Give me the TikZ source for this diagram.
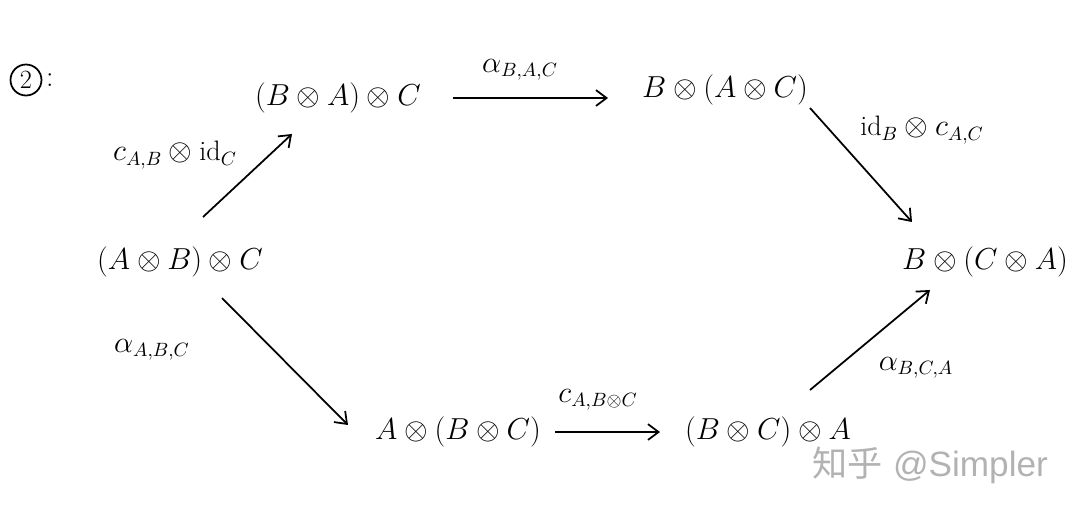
\documentclass[tikz,border=0pt]{standalone}
\usepackage{fontspec}
\usepackage{amsmath}
\usetikzlibrary{arrows.meta}
\newfontfamily\cjk{Noto Sans CJK SC}
\newfontfamily\wmfont{Liberation Sans}
\begin{document}
\begin{tikzpicture}[x=0.02cm,y=-0.02cm,
  obj/.style={font=\fontsize{17}{20}\selectfont, inner sep=4pt},
  lab/.style={font=\fontsize{16}{18}\selectfont, inner sep=1pt},
  arr/.style={-{Straight Barb[length=6pt,width=9pt]}, line width=1pt}]
\useasboundingbox (0,0) rectangle (1071,514);
\node[circle, draw, line width=1pt, inner sep=2pt, font=\fontsize{15}{17}\selectfont] (num) at (26,80) {2};
\node[font=\fontsize{17}{20}\selectfont, inner sep=0pt, anchor=west] (colon) at ([xshift=2pt]num.east) {:};
\node[obj] (BAC) at (338,98) {$(B\otimes A)\otimes C$};
\node[obj] (BAC2) at (725,90) {$B\otimes (A\otimes C)$};
\node[obj] (ABC) at (180,262) {$(A\otimes B)\otimes C$};
\node[obj] (BCA) at (985,262) {$B\otimes (C\otimes A)$};
\node[obj] (ABC2) at (458,432) {$A\otimes (B\otimes C)$};
\node[obj] (BCA2) at (768,432) {$(B\otimes C)\otimes A$};
\draw[arr] ([shift={(23,-45)}]ABC.center) -- ([shift={(-46,36)}]BAC.center);
\draw[arr] ([shift={(115,0)}]BAC.center) -- ([shift={(-117,8)}]BAC2.center);
\draw[arr] ([shift={(85,18)}]BAC2.center) -- ([shift={(-73,-40)}]BCA.center);
\draw[arr] ([shift={(42,36)}]ABC.center) -- ([shift={(-110,-7)}]ABC2.center);
\draw[arr] ([shift={(97,0)}]ABC2.center) -- ([shift={(-108,0)}]BCA2.center);
\draw[arr] ([shift={(42,-42)}]BCA2.center) -- ([shift={(-55,28)}]BCA.center);
\node[lab] (l1) at (175,155) {$c_{A,B}\otimes \mathrm{id}_C$};
\node[lab] (l2) at (520,70) {$\alpha_{B,A,C}$};
\node[lab] (l3) at (922,130) {$\mathrm{id}_B\otimes c_{A,C}$};
\node[lab] (l4) at (152,350) {$\alpha_{A,B,C}$};
\node[lab] (l5) at (598,400) {$c_{A,B\otimes C}$};
\node[lab] (l6) at (916,368) {$\alpha_{B,C,A}$};
\node[text=black!30, font=\fontsize{20}{24}\selectfont] (wm) at (930,465) {{\cjk 知乎} {\wmfont @Simpler}};
\end{tikzpicture}
\end{document}
